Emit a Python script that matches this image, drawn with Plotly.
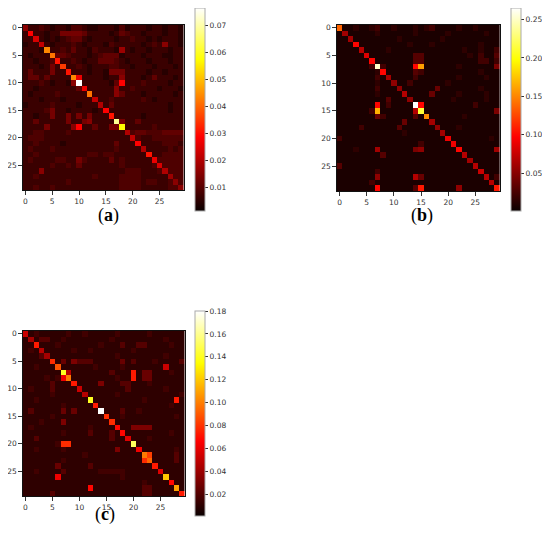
import plotly.graph_objects as go

# matrices; one base-36 char per cell, value = level * unit
A_UNIT = 0.0022
A_ROWS = [
    "73343 23324 43223 33242 33323 32332",
    "3d332 33666 65333 32354 33233 32332",
    "33b32 32345 53233 33233 43323 23332",
    "233a3 23334 32333 24333 33234 37332",
    "3332k 33435 33243 33283 23323 33233",
    "32333 j5543 33234 55523 33233 32233",
    "33233 4e334 32335 55432 33323 33233",
    "33323 63g33 43233 34433 23332 33323",
    "35333 633e3 33233 26663 33323 32333",
    "35535 3333k c3333 23373 33235 33323",
    "33343 23327 z3333 325d3 33433 33233",
    "33233 33333 5c333 33733 43333 23332",
    "32333 34333 33j33 33753 33233 33323",
    "33323 33233 333a3 34333 33432 33333",
    "23333 43333 23339 35333 33333 33233",
    "33334 63323 33323 d3333 33333 33233",
    "33233 63363 63633 3e333 33233 33333",
    "33533 33363 36733 33v63 35333 33333",
    "33336 33337 d3353 366q3 33334 33333",
    "33443 33343 33333 33339 45544 45555",
    "34443 33333 33333 33333 a4334 44444",
    "33433 33233 33333 33533 3d333 34443",
    "34333 43333 33333 33433 33933 33434",
    "33433 33333 33443 44333 333e3 34444",
    "34333 34433 64333 35343 3333c 44444",
    "33333 43343 53333 33343 33334 b4444",
    "33373 33333 33333 33334 44333 49444",
    "33433 33333 33343 33344 44333 33844",
    "33333 33343 33333 33344 44344 33474",
    "33433 43333 33333 33344 44333 33447",
]

B_UNIT = 0.0076
B_ROWS = [
    "i1121 12311 21112 12311 11211 21111",
    "18111 11211 11112 11111 21111 11211",
    "11811 11111 12111 11112 11111 11111",
    "111d1 11111 11121 11211 11111 12111",
    "11119 11112 11111 11111 11121 12113",
    "11111 b1111 11114 41111 11112 13114",
    "11111 1d111 11114 41111 11111 13313",
    "11111 13x31 1111d l1111 11211 11116",
    "11111 112d1 11114 31111 11111 12111",
    "11111 11318 11113 11111 11211 11211",
    "11111 11211 71131 11111 21111 11111",
    "11111 11311 17111 11151 11111 12111",
    "11111 11211 11911 11511 11211 11211",
    "11111 11114 11171 11111 12111 11211",
    "11111 11d13 1111z d1111 11111 31111",
    "11111 13m11 11119 s1111 11111 11116",
    "11111 11531 11114 1k111 11121 11111",
    "11111 11111 11511 11811 11111 11111",
    "11113 11111 14111 11171 11211 11111",
    "11111 11111 11211 11118 11111 11111",
    "31111 11111 11111 11111 c1111 11121",
    "11111 11111 11111 31111 1c111 11111",
    "11121 11811 11116 71111 11d11 11118",
    "11111 11141 11111 11111 11191 11111",
    "11111 11111 11111 11111 11118 11111",
    "41111 11111 11111 11111 11111 91111",
    "11111 11311 11111 11111 11111 1a111",
    "11111 11711 11119 51111 11111 11913",
    "11111 13111 11111 11111 11111 11191",
    "11111 11d11 11114 e1111 11711 1111e",
]

C_UNIT = 0.0052
C_ROWS = [
    "a2322 22232 23222 22322 22232 22222",
    "28244 22322 22222 23222 22222 23222",
    "22e22 23222 22223 22242 24422 22322",
    "23292 22223 22322 22222 32222 22222",
    "22248 22222 22222 22322 22222 23222",
    "22222 f2526 44422 22252 42223 22224",
    "22322 2h222 22232 22232 22222 2a222",
    "22222 22r92 22222 24222 e2552 22322",
    "22223 23cj2 22222 22322 e2552 22222",
    "22222 4222e 22226 22244 22232 22222",
    "23222 42222 a2222 22224 22222 23222",
    "22222 32222 29222 22322 22222 22223",
    "22322 22222 22r22 22222 22322 222e2",
    "22222 22322 222e2 22222 22222 22322",
    "24222 22525 2222z 22242 23222 22222",
    "22222 32222 22222 f2232 22222 22232",
    "22232 22622 22222 2f222 22222 22222",
    "23222 22222 22322 22d22 66662 22222",
    "22222 22322 22422 242d2 22222 22322",
    "22422 22222 22222 2422b 22232 22222",
    "22222 23ff2 22222 22222 t2222 22222",
    "22322 22322 22222 22622 2c222 22232",
    "22222 22222 23222 22222 22jg2 22242",
    "22222 22322 22222 22222 22fi2 22242",
    "22222 25222 22422 22222 2222e 22222",
    "22322 22422 22223 33332 22222 b2222",
    "22222 2c222 22222 22232 22222 2n222",
    "22222 22222 22222 22222 22322 22d22",
    "22222 22222 22d22 22222 22442 222l2",
    "22222 42222 22222 22222 22442 2222e",
]

Z_RANGES = {"a": (0.0012, 0.0765), "b": (0.001, 0.265), "c": (0.0008, 0.18)}
CB_DTICK = {"a": 0.01, "b": 0.05, "c": 0.02}
IDX = list(range(30))

# matplotlib "hot"
HOT = [
    [0.0, "rgb(10,0,0)"],
    [0.365, "rgb(255,0,0)"],
    [0.746, "rgb(255,255,0)"],
    [1.0, "rgb(255,255,255)"],
]

# the page body keeps its 8px margin; keep the figure small enough that the
# window never needs scrollbars (534 x 518 plus 8px all round)
W, H = 534, 518
X0, XSPAN = 4, 543   # window x range squeezed into the figure width
Y0 = 8
TICK_FONT = dict(family="DejaVu Sans", size=7.5, color="#333")


def decode(rows, unit):
    return [[int(ch, 36) * unit for ch in r.replace(" ", "")] for r in rows]


def px_x(v):
    return (v - X0) / XSPAN


def px_y(v):
    return 1 - (v - Y0) / H


# window pixel boxes: (left, right, top, bottom), colorbar (left, top, bottom)
panels = [
    ("a", A_ROWS, A_UNIT, (19, 183, 25, 190), (194, 8, 211), (106, 215)),
    ("b", B_ROWS, B_UNIT, (339, 505, 25, 191), (515, 8, 211), (426, 215)),
    ("c", C_ROWS, C_UNIT, (19, 184, 331, 496), (194, 311, 516), (103, 514)),
]

fig = go.Figure()
axis_style = dict(
    showgrid=False,
    zeroline=False,
    showline=True,
    linecolor="#111",
    linewidth=1,
    mirror=True,
    ticks="outside",
    ticklen=3.5,
    tickcolor="#333",
    tickfont=TICK_FONT,
    tickvals=[0, 5, 10, 15, 20, 25],
    range=[-0.5, 29.5],
    automargin=False,
)

for i, (key, rows, unit, box, cb, lab) in enumerate(panels, start=1):
    zmin, zmax = Z_RANGES[key]
    l, r, t, b = box
    cbx, cbt, cbb = cb
    fig.add_trace(go.Heatmap(
        z=decode(rows, unit),
        x=IDX,
        y=IDX,
        zmin=zmin,
        zmax=zmax,
        colorscale=HOT,
        xaxis=f"x{i}",
        yaxis=f"y{i}",
        colorbar=dict(
            x=px_x(cbx),
            xanchor="left",
            y=px_y((cbt + cbb) / 2),
            yanchor="middle",
            len=(cbb - cbt) / H,
            lenmode="fraction",
            thickness=10,
            thicknessmode="pixels",
            outlinewidth=1,
            outlinecolor="#aaa",
            ticks="outside",
            ticklen=3,
            tickcolor="#333",
            dtick=CB_DTICK[key],
            tick0=0,
            tickformat=".2f",
            tickfont=TICK_FONT,
            xpad=0,
            ypad=0,
        ),
    ))
    fig.layout[f"xaxis{i}"] = dict(
        axis_style, domain=[px_x(l), px_x(r)], anchor=f"y{i}"
    )
    fig.layout[f"yaxis{i}"] = dict(
        axis_style, domain=[px_y(b), px_y(t)], anchor=f"x{i}",
        autorange=False, range=[29.5, -0.5]
    )
    fig.add_annotation(
        text=f"(<b>{key}</b>)",
        x=px_x(lab[0]),
        y=px_y(lab[1]),
        xref="paper",
        yref="paper",
        xanchor="center",
        yanchor="middle",
        showarrow=False,
        font=dict(family="Liberation Serif", size=18, color="#000"),
    )

fig.update_layout(
    width=W,
    height=H,
    margin=dict(l=0, r=0, t=0, b=0),
    paper_bgcolor="#fff",
    plot_bgcolor="#fff",
)

fig.write_html("out.html")
